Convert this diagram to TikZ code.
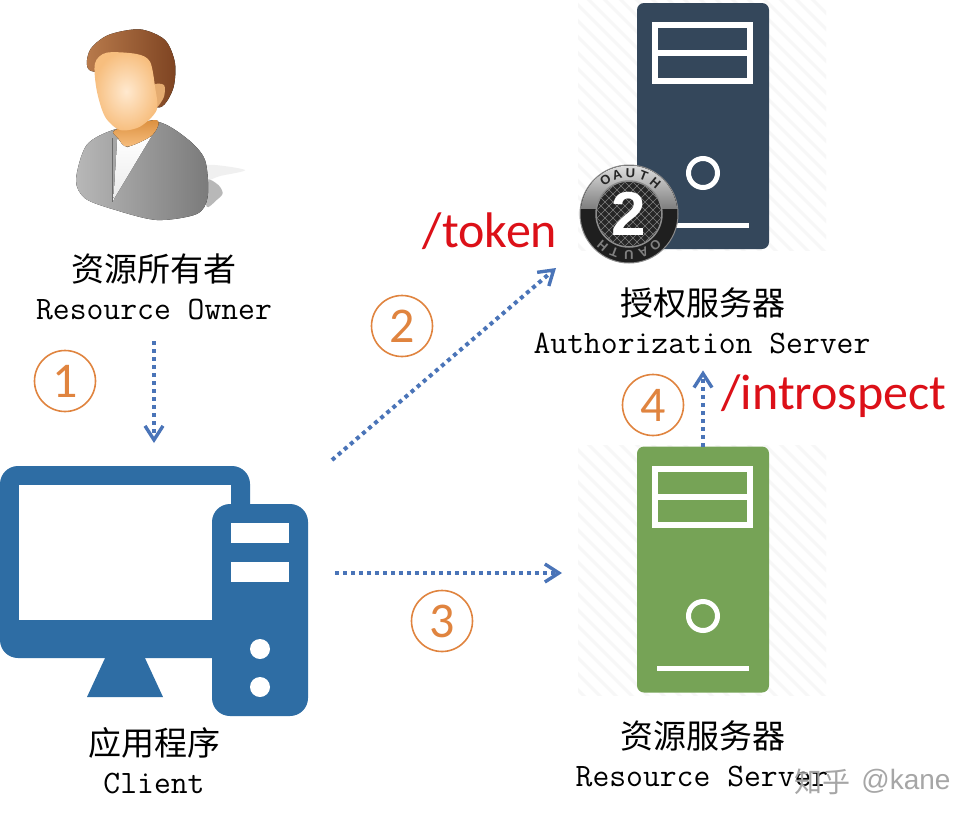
\documentclass[tikz,border=0pt]{standalone}
\usepackage{fontspec}
\setmainfont{Liberation Sans}
\newfontfamily\cjkfont{Noto Sans CJK SC}
\newfontfamily\callfont{Carlito}
\usetikzlibrary{arrows.meta}
\definecolor{flowblue}{HTML}{4A74B8}
\definecolor{clientblue}{HTML}{2E6DA4}
\definecolor{authnavy}{HTML}{34475B}
\definecolor{resgreen}{HTML}{76A356}
\definecolor{numorange}{HTML}{E0843F}
\definecolor{pathred}{HTML}{DC1018}
\definecolor{faceskin}{HTML}{F7BE7E}
\definecolor{facelight}{HTML}{FFE9CF}
\definecolor{neckdark}{HTML}{DB8F3E}
\definecolor{hairlight}{HTML}{B97B4C}
\definecolor{hairdark}{HTML}{7E4422}
\begin{document}
\begin{tikzpicture}[x=1pt,y=-1pt,
	every node/.style={inner sep=0pt,outer sep=0pt},
	flow/.style={draw=flowblue,line width=4pt,dash pattern=on 4pt off 4pt,
		-{Straight Barb[length=14pt,width=18pt,line width=3.4pt]}},
	cnlabel/.style={font=\cjkfont\fontsize{33}{36}\selectfont},
	enlabel/.style={font=\ttfamily\fontsize{32.7}{36}\selectfont},
	numcircle/.style={circle,draw=numorange,line width=1.6pt,minimum size=61pt,
		text=numorange,font=\callfont\fontsize{50}{50}\selectfont},
	pathlabel/.style={text=pathred,font=\callfont\fontsize{50}{50}\selectfont},
	hatchbox/.style={minimum width=248pt,minimum height=250pt,path picture={
		\foreach \k in {-390,-374,...,130}
			\draw[black!3,line width=3pt] ([xshift=\k pt,yshift=130pt]path picture bounding box.center) -- ([xshift=\k pt+260pt,yshift=-130pt]path picture bounding box.center);}},
	serverbox/.style={minimum width=132pt,minimum height=246pt,rounded corners=7pt},
	rackbox/.style={draw=white,line width=6pt,minimum width=95pt,minimum height=56pt},
	portring/.style={circle,draw=white,line width=5pt,minimum size=29pt},
	barline/.style={fill=white,minimum width=92pt,minimum height=5pt},
	bluebox/.style={fill=clientblue,rounded corners=18pt},
	slotbox/.style={fill=white,minimum width=58pt,minimum height=20pt},
	lampdot/.style={circle,fill=white,minimum size=20pt}]
\useasboundingbox (0,0) rectangle (977,820);
\fill[white] (0,0) rectangle (977,820);
% owner
\begin{scope}[shift={(40,10)},scale=1/3]
\fill[black!6] plot[smooth cycle] coordinates {(500,465) (615,480) (540,498) (500,510)};
\fill[black!28] plot[smooth cycle] coordinates {(500,510) (535,525) (548,550) (530,570) (500,590)};
\fill[left color=black!28,right color=black!52]
	plot[smooth cycle] coordinates {(225,358) (140,405) (108,510) (135,565) (220,598) (350,630) (470,612) (503,560) (495,450) (440,385) (350,335)};
\draw[black!58,line width=1pt] (218,385) -- (218,575);
\fill[top color=white,bottom color=black!8] (232,385) -- (262,412) -- (335,378) -- (220,570) -- cycle;
\fill[top color=neckdark,bottom color=faceskin]
	plot[smooth cycle] coordinates {(225,360) (350,330) (336,376) (262,410) (235,385)};
\fill[left color=hairlight,right color=hairdark]
	plot[smooth cycle] coordinates {(148,180) (150,120) (205,75) (300,58) (375,90) (405,160) (398,240) (352,292) (250,200)};
\fill[faceskin!85!hairdark] plot[smooth cycle] coordinates {(340,225) (372,225) (372,260) (350,292) (335,270)};
\shade[inner color=facelight,outer color=faceskin,shading=radial]
	plot[smooth cycle] coordinates {(165,160) (200,128) (290,132) (330,155) (345,230) (350,300) (300,350) (240,360) (195,320) (170,240)};
\end{scope}
\node[cnlabel] (ownercn) at (154,269) {资源所有者};
\node[enlabel] (owneren) at (154,310) {Resource Owner};
% client
\node[bluebox,minimum width=250pt,minimum height=192pt] (monitor) at (125,562) {};
\fill[white] (19,485) rectangle (231,620);
\fill[clientblue] (87,697) -- (163,697) -- (144,656) -- (106,656) -- cycle;
\node[bluebox,minimum width=96pt,minimum height=212pt] (tower) at (260,610) {};
\node[slotbox] (slottop) at (260,533) {};
\node[slotbox] (slotlow) at (260,572) {};
\node[lampdot] (lamptop) at (260,649) {};
\node[lampdot] (lamplow) at (260,687) {};
\node[cnlabel] (clientcn) at (154,743) {应用程序};
\node[enlabel] (clienten) at (154,783) {Client};
% authorization server
\node[hatchbox] (authhatch) at (702,125) {};
\node[serverbox,fill=authnavy] (authbox) at (703,126) {};
\node[rackbox] (authrack) at (702.5,52.5) {};
\draw[white,line width=6pt] (authrack.west) -- (authrack.east);
\node[portring] (authport) at (703,173) {};
\node[barline] (authbar) at (703,225) {};
\node[circle,minimum size=98pt,fill=black!88,draw=black!45,line width=1pt] (badge) at (629,214) {};
\begin{scope}
\clip (badge) circle (48.5);
\fill[top color=black!8,bottom color=black!50] (570,160) rectangle (690,208);
\end{scope}
\node[circle,minimum size=66pt,fill=black!85,draw=black!45,line width=1.5pt] (badgecore) at (629,214) {};
\begin{scope}
\clip (badgecore) circle (32);
\foreach \k in {-60,-52,...,60}
	{\draw[black!50,line width=.5pt] (629+\k-40,174) -- (629+\k+40,254);
	\draw[black!50,line width=.5pt] (629+\k+40,174) -- (629+\k-40,254);}
\end{scope}
\node[text=white,font=\bfseries\fontsize{62}{62}\selectfont] (badgetwo) at (629,214) {2};
\foreach \ch/\ang in {O/125,A/107,U/88,T/69,H/50}
	\node[text=black!85,rotate=\ang-90,font=\bfseries\fontsize{13}{13}\selectfont] at ([shift={(\ang:41pt)}]badge) {\ch};
\foreach \ch/\ang in {O/-50,A/-69,U/-90,T/-111,H/-130}
	\node[text=black!50,rotate=\ang-90,font=\bfseries\fontsize{13}{13}\selectfont] at ([shift={(\ang:41pt)}]badge) {\ch};
\node[cnlabel] (authcn) at (703,303) {授权服务器};
\node[enlabel] (authen) at (702,343) {Authorization Server};
% resource server
\node[hatchbox] (reshatch) at (702,570) {};
\node[serverbox,fill=resgreen] (resbox) at (703,569.5) {};
\node[rackbox] (resrack) at (702.5,497) {};
\draw[white,line width=6pt] (resrack.west) -- (resrack.east);
\node[portring] (resport) at (703,616) {};
\node[barline] (resbar) at (703,668) {};
\node[cnlabel] (rescn) at (703,736) {资源服务器};
\node[enlabel] (resen) at (702,776) {Resource Server};
% labels
\node[pathlabel] (tokenlabel) at (490,231) {/token};
\node[pathlabel] (introlabel) at (834,396) {/introspect};
\node[numcircle] (stepone) at (65,381) {1};
\node[numcircle] (steptwo) at (402,326) {2};
\node[numcircle] (stepthree) at (442,621) {3};
\node[numcircle] (stepfour) at (653,405) {4};
% flows
\coordinate (clientout) at (332,460);
\coordinate (tokenin) at (556,268);
\draw[flow,shorten <=21pt,shorten >=23pt] (owneren.south) -- (owneren.south |- monitor.north);
\draw[flow] (clientout) -- (tokenin);
\draw[flow,shorten <=27pt,shorten >=75pt] ([yshift=-3.5pt]tower.east |- resbox.west) -- ([yshift=-3.5pt]resbox.west);
\draw[flow,shorten >=17pt] (resbox.north) -- (resbox.north |- authen.south);
% mark
\node[text=black!35,font=\cjkfont\fontsize{28}{28}\selectfont] (markcn) at (822,782) {知乎};
\node[text=black!35,font=\fontsize{28}{28}\selectfont] (markname) at (906,781) {@kane};
\end{tikzpicture}
\end{document}
